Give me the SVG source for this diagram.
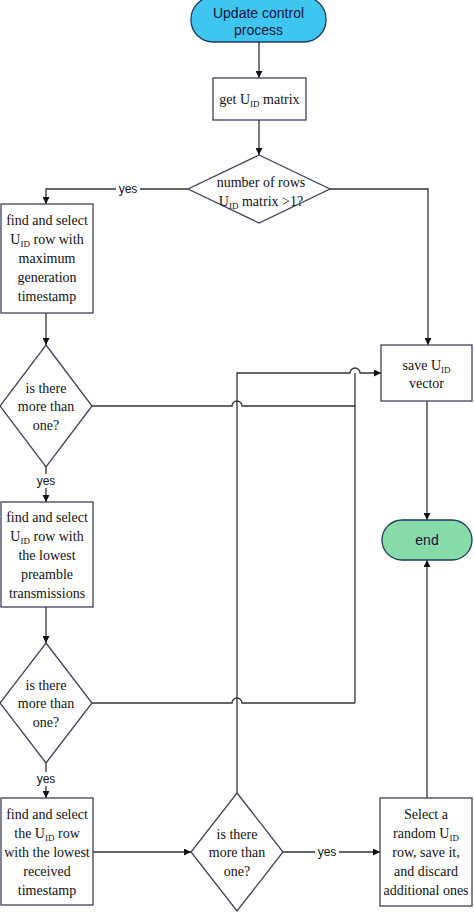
<svg xmlns="http://www.w3.org/2000/svg" width="474" height="913" viewBox="0 0 474 913">
<defs>
<marker id="arr" viewBox="0 0 10 10" refX="10" refY="5" markerWidth="7" markerHeight="7" markerUnits="userSpaceOnUse" orient="auto"><path d="M0,0 L10,5 L0,10 z" fill="#111"/></marker>
</defs>
<style>
.box{fill:#fff;stroke:#3f3f5f;stroke-width:1.3}
.ln{fill:none;stroke:#333;stroke-width:1.3}
.t{font-family:"Liberation Serif","Times New Roman",serif;font-size:14px;fill:#111;text-anchor:middle}
.s{font-size:9px}
.a{font-family:"Liberation Sans",Arial,sans-serif;font-size:14px;fill:#14143a;text-anchor:middle}
.y{font-family:"Liberation Sans",Arial,sans-serif;font-size:12px;fill:#111;text-anchor:middle}
</style>
<rect width="474" height="913" fill="#fff"/>
<g id="connectors">
<line class="ln" x1="259" y1="42" x2="259" y2="78" marker-end="url(#arr)"/>
<line class="ln" x1="259" y1="120" x2="259" y2="155" marker-end="url(#arr)"/>
<polyline class="ln" points="188,189 46,189 46,204" marker-end="url(#arr)"/>
<polyline class="ln" points="330,189 428,189 428,345" marker-end="url(#arr)"/>
<line class="ln" x1="46" y1="313" x2="46" y2="345" marker-end="url(#arr)"/>
<line class="ln" x1="46" y1="467" x2="46" y2="502" marker-end="url(#arr)"/>
<path class="ln" d="M92,406 H232 A5,5 0 0 1 242,406 H355"/>
<line class="ln" x1="355" y1="373" x2="355" y2="703"/>
<path class="ln" d="M237,793 V373 H350 A5,5 0 0 1 360,373 H381" marker-end="url(#arr)"/>
<line class="ln" x1="427" y1="401" x2="427" y2="520" marker-end="url(#arr)"/>
<line class="ln" x1="46" y1="607" x2="46" y2="643" marker-end="url(#arr)"/>
<path class="ln" d="M92,703 H232 A5,5 0 0 1 242,703 H355"/>
<line class="ln" x1="46" y1="763" x2="46" y2="798" marker-end="url(#arr)"/>
<line class="ln" x1="92" y1="852" x2="191" y2="852" marker-end="url(#arr)"/>
<line class="ln" x1="283" y1="852" x2="380" y2="852" marker-end="url(#arr)"/>
<line class="ln" x1="427" y1="798" x2="427" y2="560" marker-end="url(#arr)"/>
<rect x="116" y="182" width="24" height="14" fill="#fff"/>
<text class="y" x="128" y="193">yes</text>
<rect x="34" y="474" width="24" height="14" fill="#fff"/>
<text class="y" x="46" y="485">yes</text>
<rect x="34" y="772" width="24" height="14" fill="#fff"/>
<text class="y" x="46" y="783">yes</text>
<rect x="315" y="845" width="24" height="14" fill="#fff"/>
<text class="y" x="327" y="856">yes</text>
</g>
<g id="start">
<rect x="191" y="-3" width="135" height="45" rx="22" fill="#3EC6F0" stroke="#1E3A5F" stroke-width="1.3"/>
<text class="a" x="258.5" y="18">Update control</text>
<text class="a" x="258.5" y="35">process</text>
</g>
<g id="getmatrix">
<rect class="box" x="213" y="78" width="93" height="42"/>
<text class="t" x="259.5" y="104">get U<tspan class="s" dy="3">ID</tspan><tspan dy="-3"> matrix</tspan></text>
</g>
<g id="decision1">
<polygon class="box" points="259,155 330,189 259,223 188,189"/>
<text class="t" x="261" y="187">number of rows</text>
<text class="t" x="261" y="206">U<tspan class="s" dy="3">ID</tspan><tspan dy="-3"> matrix &gt;1?</tspan></text>
</g>
<g id="maxgen">
<rect class="box" x="1" y="204" width="92" height="109"/>
<text class="t" x="47" y="225">find and select</text>
<text class="t" x="47" y="244">U<tspan class="s" dy="3">ID</tspan><tspan dy="-3"> row with</tspan></text>
<text class="t" x="47" y="263">maximum</text>
<text class="t" x="47" y="282">generation</text>
<text class="t" x="47" y="301">timestamp</text>
</g>
<g id="decision2">
<polygon class="box" points="46,345 92,406 46,467 0,406"/>
<text class="t" x="46" y="393">is there</text>
<text class="t" x="46" y="411">more than</text>
<text class="t" x="46" y="430">one?</text>
</g>
<g id="save">
<rect class="box" x="381" y="345" width="91" height="56"/>
<text class="t" x="426.5" y="370">save U<tspan class="s" dy="3">ID</tspan></text>
<text class="t" x="426.5" y="388">vector</text>
</g>
<g id="end">
<rect x="382" y="520" width="90" height="40" rx="20" fill="#86DBA9" stroke="#1E3A5F" stroke-width="1.3"/>
<text class="a" x="427" y="545">end</text>
</g>
<g id="lowpreamble">
<rect class="box" x="1" y="502" width="92" height="105"/>
<text class="t" x="47" y="522">find and select</text>
<text class="t" x="47" y="541">U<tspan class="s" dy="3">ID</tspan><tspan dy="-3"> row with</tspan></text>
<text class="t" x="47" y="560">the lowest</text>
<text class="t" x="47" y="579">preamble</text>
<text class="t" x="47" y="598">transmissions</text>
</g>
<g id="decision3">
<polygon class="box" points="46,643 92,703 46,763 0,703"/>
<text class="t" x="46" y="690">is there</text>
<text class="t" x="46" y="708">more than</text>
<text class="t" x="46" y="727">one?</text>
</g>
<g id="lowreceived">
<rect class="box" x="1" y="798" width="92" height="107"/>
<text class="t" x="47" y="819">find and select</text>
<text class="t" x="47" y="838">the U<tspan class="s" dy="3">ID</tspan><tspan dy="-3"> row</tspan></text>
<text class="t" x="47" y="857">with the lowest</text>
<text class="t" x="47" y="876">received</text>
<text class="t" x="47" y="895">timestamp</text>
</g>
<g id="decision4">
<polygon class="box" points="237,793 283,852 237,911 191,852"/>
<text class="t" x="237" y="839">is there</text>
<text class="t" x="237" y="857">more than</text>
<text class="t" x="237" y="876">one?</text>
</g>
<g id="random">
<rect class="box" x="380" y="798" width="92" height="108"/>
<text class="t" x="426" y="819">Select a</text>
<text class="t" x="426" y="838">random U<tspan class="s" dy="3">ID</tspan></text>
<text class="t" x="426" y="857">row, save it,</text>
<text class="t" x="426" y="876">and discard</text>
<text class="t" x="426" y="895">additional ones</text>
</g>
</svg>
